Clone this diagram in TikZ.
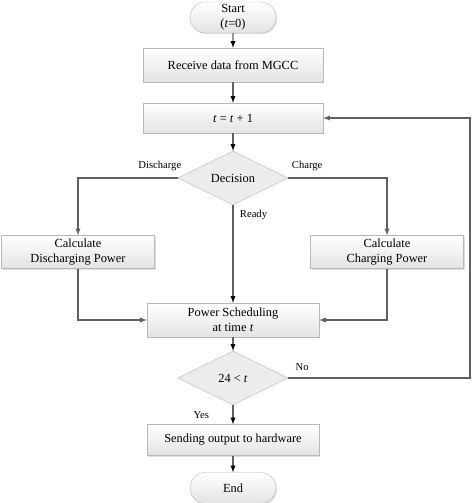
\documentclass[tikz,border=0pt]{standalone}
\usepackage{fontspec}
\setmainfont{Liberation Serif}
\usetikzlibrary{shapes, arrows, positioning, shadows}

\begin{document}
\begin{tikzpicture}[x=1pt,y=1pt,on grid,
    font=\fontsize{12.4}{14.8}\selectfont,
    box/.style={rectangle, draw=gray!55, top color=white, bottom color=gray!22,
        drop shadow={opacity=0.25, shadow xshift=1.2pt, shadow yshift=-1.2pt},
        minimum width=172pt, minimum height=33pt, align=center, inner sep=2pt},
    term/.style={box, rounded rectangle, minimum width=90pt, minimum height=31pt},
    cond/.style={diamond, draw=gray!55, fill=gray!15, aspect=2, inner sep=0pt,
        minimum width=110pt, minimum height=54pt},
    lbl/.style={font=\fontsize{10.6}{12}\selectfont},
    flow/.style={->, >=latex, draw=black!62, line width=1.3pt}]
    \useasboundingbox (0,0) rectangle (474,-503);
    \node[term] (start) at (233,-17.5) {Start\\(\textit{t}=0)};
    \node[box, minimum width=180pt, minimum height=34pt] (recv) [below=47.5pt of start] {Receive data from MGCC};
    \node[box, minimum width=180pt, minimum height=30pt] (tinc) [below=53pt of recv] {\textit{t} = \textit{t} + 1};
    \node[cond] (dec) [below=60pt of tinc] {Decision};
    \node[box, minimum width=153pt] (dis) [below left=74pt and 155pt of dec] {Calculate\\Discharging Power};
    \node[box, minimum width=153pt] (chg) [below right=74pt and 154pt of dec] {Calculate\\Charging Power};
    \node[box, minimum height=34pt] (sched) [below=142pt of dec] {Power Scheduling\\at time \textit{t}};
    \node[cond] (chk) [below=58pt of sched] {24 < \textit{t}};
    \node[box, minimum height=31pt] (send) [below=62pt of chk] {Sending output to hardware};
    \node[term] (stop) [below=48pt of send] {End};
    \coordinate[right=237pt of chk] (back);

    \path[flow]
        (start) edge (recv)
        (recv) edge (tinc)
        (tinc) edge (dec)
        (dec) edge node[lbl, pos=0.1, right=3pt] {Ready} (sched)
        (sched) edge (chk)
        (chk) edge node[lbl, left=20pt] {Yes} (send)
        (send) edge (stop);
    \draw[flow] (dec.west) -| node[lbl, pos=0.09, above=3pt] {Discharge} (dis);
    \draw[flow] (dec.east) -| node[lbl, pos=0.096, above=3pt] {Charge} (chg);
    \draw[flow] (dis) |- (sched);
    \draw[flow] (chg) |- (sched);
    \draw[flow] (chk.east) -- node[lbl, pos=0.077, above=3pt] {No} (back) |- (tinc.east);
\end{tikzpicture}
\end{document}
